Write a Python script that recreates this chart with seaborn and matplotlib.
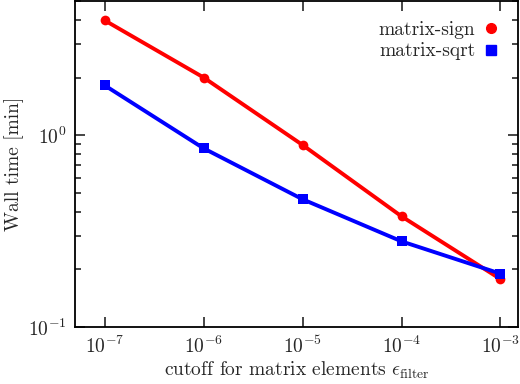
import numpy as np
import pandas as pd
import seaborn as sns
import matplotlib
matplotlib.use("Agg")
import matplotlib.pyplot as plt
from matplotlib.lines import Line2D
from matplotlib.ticker import LogLocator, NullLocator, NullFormatter

# data
cutoff = [1e-7, 1e-6, 1e-5, 1e-4, 1e-3]
sign_time = [3.97, 2.0, 0.89, 0.378, 0.178]
sqrt_time = [1.82, 0.855, 0.464, 0.28, 0.19]

df = pd.DataFrame({
    "cutoff": cutoff * 2,
    "time": sign_time + sqrt_time,
    "method": ["matrix-sign"] * 5 + ["matrix-sqrt"] * 5,
})

sns.set_style("ticks")
plt.rcParams["font.family"] = "serif"
plt.rcParams["font.serif"] = ["cmr10", "DejaVu Serif"]
plt.rcParams["mathtext.fontset"] = "cm"
plt.rcParams["axes.formatter.use_mathtext"] = True

fig = plt.figure(figsize=(5.2, 3.84), dpi=100)
ax = fig.add_axes([0.144, 0.148, 0.852, 0.849])

palette = {"matrix-sign": "#ff0000", "matrix-sqrt": "#0000ff"}
markers = {"matrix-sign": "o", "matrix-sqrt": "s"}
sns.lineplot(data=df, x="cutoff", y="time", hue="method", style="method",
             palette=palette, markers=markers, dashes=False, lw=2.8,
             markersize=7, markeredgewidth=0, ax=ax, legend=False)

ax.set_xscale("log")
ax.set_yscale("log")
ax.set_xlim(5e-8, 1.5e-3)
ax.set_ylim(0.1, 5)

ax.xaxis.set_major_locator(LogLocator(base=10, numticks=20))
ax.xaxis.set_minor_locator(NullLocator())
ax.yaxis.set_major_locator(LogLocator(base=10, numticks=20))
ax.yaxis.set_minor_locator(LogLocator(base=10, subs=np.arange(2, 10), numticks=20))
ax.yaxis.set_minor_formatter(NullFormatter())

ax.tick_params(which="both", direction="in", top=True, right=True, labelsize=14, width=1.2)
ax.tick_params(which="major", length=7, pad=6)
ax.tick_params(which="minor", length=4)
for s in ax.spines.values():
    s.set_linewidth(1.3)
    s.set_color("black")

ax.set_xlabel(r"cutoff for matrix elements $\epsilon_{\mathrm{filter}}$", fontsize=14, labelpad=2)
ax.set_ylabel("Wall time [min]", fontsize=14, labelpad=3)

handles = [Line2D([], [], ls="none", marker=markers[m], color=palette[m], markersize=7)
           for m in palette]
ax.legend(handles, list(palette), loc="upper right", frameon=False, markerfirst=False,
          fontsize=14, handlelength=0.8, handletextpad=0.4, labelspacing=0.2,
          borderaxespad=0.6)

fig.savefig("out.png", dpi=100)
